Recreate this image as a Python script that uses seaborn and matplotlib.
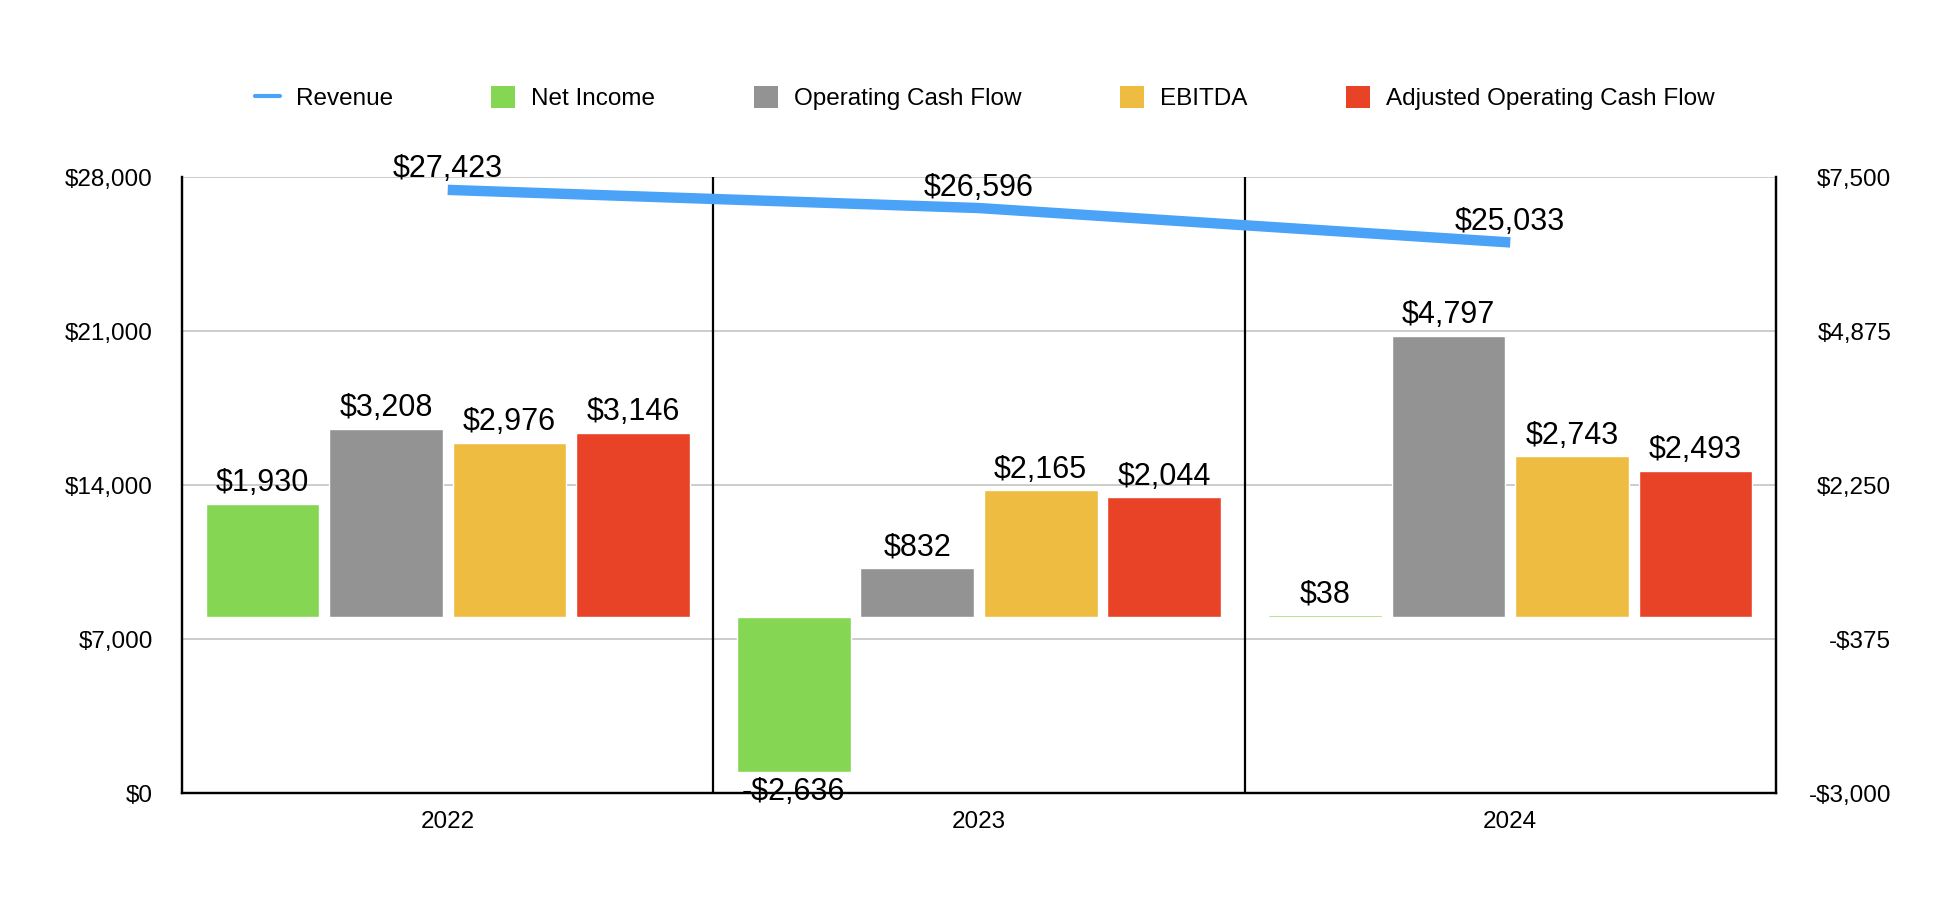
import pandas as pd
import seaborn as sns
import matplotlib.pyplot as plt
from matplotlib.lines import Line2D
from matplotlib.patches import Patch

YEARS = ["2022", "2023", "2024"]
REVENUE = [27423, 26596, 25033]
NET_INCOME = [1930, -2636, 38]
OPERATING_CF = [3208, 832, 4797]
EBITDA = [2976, 2165, 2743]
ADJ_OPERATING_CF = [3146, 2044, 2493]

SERIES = ["Net Income", "Operating Cash Flow", "EBITDA", "Adjusted Operating Cash Flow"]
COLORS = ["#84d653", "#939393", "#efbc42", "#e84327"]
LINE_COLOR = "#4aa3f7"

LEFT_TICKS = [0, 7000, 14000, 21000, 28000]
RIGHT_TICKS = [-3000, -375, 2250, 4875, 7500]


def money(v):
    return f"-${abs(v):,.0f}" if v < 0 else f"${v:,.0f}"


def plot_chart():
    bars = pd.DataFrame({
        "year": YEARS * 4,
        "series": [s for s in SERIES for _ in YEARS],
        "value": NET_INCOME + OPERATING_CF + EBITDA + ADJ_OPERATING_CF,
    })

    sns.set_theme(style="white")
    plt.rcParams["font.family"] = ["Liberation Sans", "DejaVu Sans"]
    plt.rcParams["text.color"] = "black"

    fig, ax = plt.subplots(figsize=(19.58, 9.18), dpi=100)
    fig.subplots_adjust(left=0.093, right=0.907, top=0.807, bottom=0.136)
    ax2 = ax.twinx()

    # revenue line on the left axis
    sns.pointplot(x=YEARS, y=REVENUE, ax=ax, color=LINE_COLOR, markers="",
                  errorbar=None, lw=7.5, solid_capstyle="butt")
    for i, v in enumerate(REVENUE):
        ax.annotate(money(v), (i, v), xytext=(0, 4), textcoords="offset points",
                    ha="center", va="bottom", fontsize=22, color="black")

    # bars on the right axis
    sns.barplot(data=bars, x="year", y="value", hue="series", hue_order=SERIES,
                palette=COLORS, ax=ax2, width=0.93, gap=0.08, legend=False,
                saturation=1, errorbar=None)
    for cont in ax2.containers:
        ax2.bar_label(cont, labels=[money(b.get_height()) for b in cont],
                      padding=4, fontsize=22, color="black")

    ax.set_ylim(0, 28000)
    ax.set_yticks(LEFT_TICKS)
    ax.set_yticklabels([money(t) for t in LEFT_TICKS])
    ax2.set_ylim(-3000, 7500)
    ax2.set_yticks(RIGHT_TICKS)
    ax2.set_yticklabels([money(t) for t in RIGHT_TICKS], ha="right")
    ax.set_xlim(-0.5, 2.5)
    ax.set_xlabel("")
    ax.set_ylabel("")
    ax2.set_ylabel("")
    ax2.set_xlabel("")

    ax.grid(axis="y", color="#c4c4c4", lw=1.2)
    ax.grid(axis="x", visible=False)
    ax2.grid(False)
    ax.set_axisbelow(True)
    for a in (ax, ax2):
        a.spines["top"].set_visible(False)
        for side in ("left", "right", "bottom"):
            a.spines[side].set_color("black")
            a.spines[side].set_linewidth(1.6)
    for x in (0.5, 1.5):
        ax.axvline(x, color="black", lw=1.6, zorder=1)

    ax.tick_params(axis="y", length=0, pad=21, labelsize=17.5, labelcolor="black")
    ax.tick_params(axis="x", length=0, pad=13, labelsize=17.5, labelcolor="black")
    ax2.tick_params(axis="y", length=0, pad=83, labelsize=17.5, labelcolor="black")

    handles = [Line2D([0], [0], color=LINE_COLOR, lw=3)]
    handles += [Patch(facecolor=c, edgecolor="none") for c in COLORS]
    fig.legend(handles, ["Revenue"] + SERIES, loc="center", bbox_to_anchor=(0.503, 0.893),
               ncol=5, frameon=False, fontsize=17.5, handlelength=1.0, handleheight=1.0,
               columnspacing=4.05, handletextpad=0.65, labelcolor="black")

    plt.savefig("out.png", dpi=100)
    plt.close()


if __name__ == "__main__":
    plot_chart()
